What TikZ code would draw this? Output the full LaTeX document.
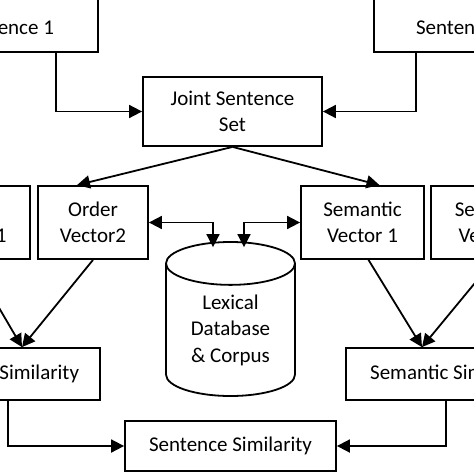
\documentclass[tikz,border=0pt]{standalone}
\usepackage{fontspec}
\setmainfont{Carlito}
\usetikzlibrary{shapes.geometric, arrows.meta}

\begin{document}
\begin{tikzpicture}[x=1pt, y=-1pt,
		box/.style={draw, line width=1.8pt, align=center, inner sep=0pt, font=\fontsize{21}{26.5}\selectfont},
		arr/.style={-{Triangle[length=13pt,width=13pt]}, line width=1.8pt},
		dbl/.style={{Triangle[length=13pt,width=13pt]}-{Triangle[length=13pt,width=13pt]}, line width=1.8pt}]
		\useasboundingbox (0,0) rectangle (474,474);
		\clip (0,0) rectangle (474,474);
		% Input sentences
		\node[box, minimum width=182pt, minimum height=80pt, text height=44.5pt] (s1) at (7,12) {Sentence 1};
		\node[box, minimum width=178pt, minimum height=80pt, text height=44.5pt] (s2) at (463,12) {Sentence 2};
		\node[box, minimum width=179pt, minimum height=69pt] (joint) at (232.5,111.5) {Joint Sentence\\Set};
		
		% Vectors
		\node[box, minimum width=118pt, minimum height=73pt] (ov1) at (-29,222.5) {Order\\Vector 1};
		\node[box, minimum width=110pt, minimum height=73pt] (ov2) at (93,222.5) {Order\\Vector2};
		\node[box, minimum width=123pt, minimum height=73pt] (sv1) at (362.5,222.5) {Semantic\\Vector 1};
		\node[box, minimum width=126pt, minimum height=73pt] (sv2) at (494,222.5) {Semantic\\Vector 2};
		
		% Database
		\node[box, cylinder, shape border rotate=90, aspect=0.54, minimum width=129pt, minimum height=154pt, anchor=shape center] (db) at (230.5,319) {Lexical\\Database\\\& Corpus};
		
		% Similarities
		\node[box, minimum width=176pt, minimum height=52pt] (osim) at (12,374) {Order Similarity};
		\node[box, minimum width=211pt, minimum height=52pt] (ssim) at (451.5,374) {Semantic Similarity};
		\node[box, minimum width=211pt, minimum height=50pt] (ssent) at (230.5,446) {Sentence Similarity};
		
		% Draw the arrows
		\draw[arr] ([xshift=49pt]s1.south) |- (joint.west);
		\draw[arr] ([xshift=-47pt]s2.south) |- (joint.east);
		\draw[arr] (joint.south) -- ([xshift=-16pt]ov2.north);
		\draw[arr] (joint.south) -- ([xshift=17pt]sv1.north);
		\draw[dbl] (ov2.east) -| ([xshift=-17.5pt,yshift=-6pt]db.north);
		\draw[dbl] (sv1.west) -| ([xshift=13.5pt,yshift=-6pt]db.north);
		\draw[arr] (ov1.south) -- ([xshift=10pt]osim.north);
		\draw[arr] (ov2.south) -- ([xshift=10pt]osim.north);
		\draw[arr] ([xshift=6pt]sv1.south) -- ([xshift=-29.5pt]ssim.north);
		\draw[arr] (sv2.south) -- ([xshift=-29.5pt]ssim.north);
		\draw[arr] ([xshift=-4pt]osim.south) |- (ssent.west);
		\draw[arr] ([xshift=-5.5pt]ssim.south) |- (ssent.east);
\end{tikzpicture}
\end{document}
